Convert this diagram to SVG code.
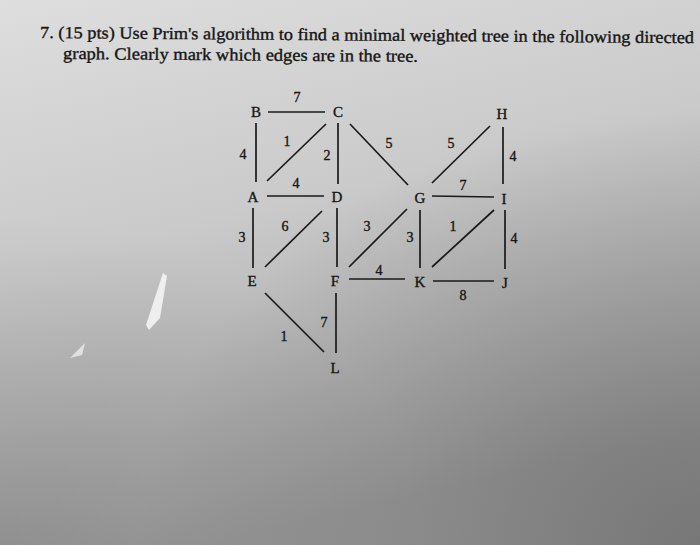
<svg xmlns="http://www.w3.org/2000/svg" width="700" height="545" viewBox="0 0 700 545">
<defs>
<linearGradient id="bg" x1="0" y1="0" x2="0.3" y2="1">
<stop offset="0" stop-color="#dedede"/>
<stop offset="0.45" stop-color="#cacaca"/>
<stop offset="1" stop-color="#9e9e9e"/>
</linearGradient>
<radialGradient id="shade" cx="1" cy="1" r="0.8">
<stop offset="0" stop-color="#505050" stop-opacity="0.5"/>
<stop offset="1" stop-color="#505050" stop-opacity="0"/>
</radialGradient>
<radialGradient id="shade2" cx="0" cy="1" r="0.6">
<stop offset="0" stop-color="#606060" stop-opacity="0.3"/>
<stop offset="1" stop-color="#606060" stop-opacity="0"/>
</radialGradient>
<style>
.t{font-family:"Liberation Serif","DejaVu Serif",serif;fill:#151515;stroke:#151515;stroke-width:0.35}
.q{font-size:17px}
.n{font-size:15px;text-anchor:middle;dominant-baseline:central}
.w{font-size:14px;text-anchor:middle;dominant-baseline:central}
.e{stroke:#1a1a1a;stroke-width:1.7;fill:none}
</style>
</defs>
<rect width="700" height="545" fill="url(#bg)"/>
<rect width="700" height="545" fill="url(#shade)"/>
<rect width="700" height="545" fill="url(#shade2)"/>
<polygon points="163,273 167,276 160,318 149,330 146,325" fill="#f4f4f4" opacity="0.9"/>
<polygon points="85,343 82,355 70,358" fill="#ececec" opacity="0.8"/>

<g id="question">
<text class="t q" x="40" y="38" textLength="654" lengthAdjust="spacingAndGlyphs" transform="rotate(0.45 40 38)">7. (15 pts) Use Prim's algorithm to find a minimal weighted tree in the following directed</text>
<text class="t q" x="63" y="59" textLength="355" lengthAdjust="spacingAndGlyphs" transform="rotate(0.45 63 59)">graph. Clearly mark which edges are in the tree.</text>
</g>

<g id="connectors">
<line class="e" x1="268" y1="112" x2="325" y2="112"/>
<line class="e" x1="256" y1="123" x2="256" y2="182"/>
<line class="e" x1="267" y1="181" x2="326" y2="124"/>
<line class="e" x1="338" y1="123" x2="338" y2="184"/>
<line class="e" x1="350" y1="124" x2="408" y2="185"/>
<line class="e" x1="432" y1="183" x2="490" y2="126"/>
<line class="e" x1="503" y1="127" x2="503" y2="184"/>
<line class="e" x1="267" y1="196" x2="324" y2="196"/>
<line class="e" x1="432" y1="196" x2="494" y2="197"/>
<line class="e" x1="253" y1="208" x2="253" y2="268"/>
<line class="e" x1="265" y1="267" x2="322" y2="211"/>
<line class="e" x1="337" y1="208" x2="337" y2="267"/>
<line class="e" x1="349" y1="267" x2="407" y2="209"/>
<line class="e" x1="420" y1="210" x2="420" y2="268"/>
<line class="e" x1="432" y1="267" x2="494" y2="210"/>
<line class="e" x1="505" y1="210" x2="505" y2="269"/>
<line class="e" x1="349" y1="279" x2="405" y2="279"/>
<line class="e" x1="433" y1="281" x2="494" y2="281"/>
<line class="e" x1="265" y1="293" x2="324" y2="352"/>
<line class="e" x1="336" y1="293" x2="336" y2="353"/>
</g>

<g id="weights">
<text class="t w" x="297" y="97">7</text>
<text class="t w" x="243" y="154">4</text>
<text class="t w" x="287" y="141">1</text>
<text class="t w" x="327" y="155">2</text>
<text class="t w" x="389" y="143">5</text>
<text class="t w" x="451" y="143">5</text>
<text class="t w" x="513" y="156">4</text>
<text class="t w" x="296" y="183">4</text>
<text class="t w" x="463" y="185">7</text>
<text class="t w" x="242" y="237">3</text>
<text class="t w" x="285" y="226">6</text>
<text class="t w" x="326" y="237">3</text>
<text class="t w" x="367" y="226">3</text>
<text class="t w" x="410" y="237">3</text>
<text class="t w" x="453" y="226">1</text>
<text class="t w" x="514" y="238">4</text>
<text class="t w" x="379" y="270">4</text>
<text class="t w" x="463" y="295">8</text>
<text class="t w" x="284" y="336">1</text>
<text class="t w" x="324" y="322">7</text>
</g>

<g id="node-B"><text class="t n" x="256" y="112">B</text></g>
<g id="node-C"><text class="t n" x="338" y="112">C</text></g>
<g id="node-H"><text class="t n" x="502" y="114">H</text></g>
<g id="node-A"><text class="t n" x="253" y="197">A</text></g>
<g id="node-D"><text class="t n" x="337" y="197">D</text></g>
<g id="node-G"><text class="t n" x="420" y="198">G</text></g>
<g id="node-I"><text class="t n" x="504" y="199">I</text></g>
<g id="node-E"><text class="t n" x="252" y="281">E</text></g>
<g id="node-F"><text class="t n" x="335" y="281">F</text></g>
<g id="node-K"><text class="t n" x="420" y="282">K</text></g>
<g id="node-J"><text class="t n" x="505" y="283">J</text></g>
<g id="node-L"><text class="t n" x="335" y="368">L</text></g>
</svg>
